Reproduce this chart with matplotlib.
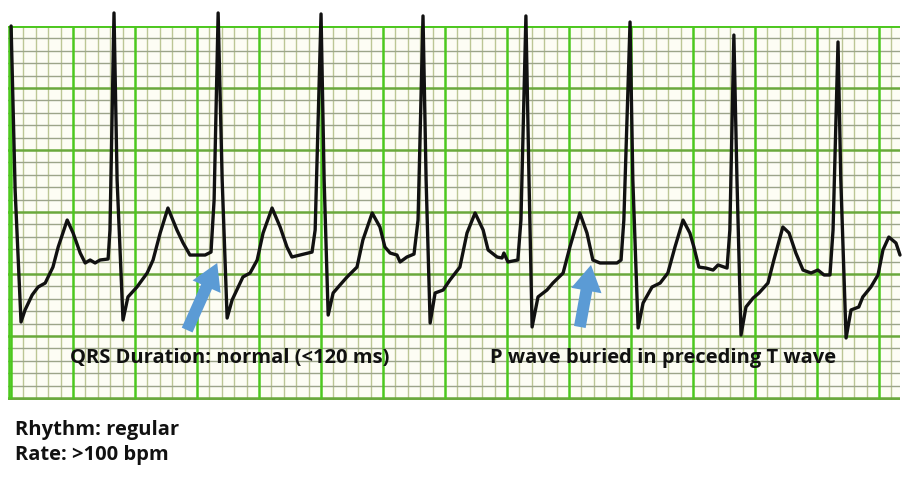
import matplotlib
matplotlib.use("Agg")
import matplotlib.pyplot as plt
import numpy as np

# ECG trace: time (s) and amplitude (mV), read from the strip
time_s = [0.000, 0.013, 0.032, 0.045, 0.068, 0.087, 0.110, 0.135, 0.152, 0.181, 0.200, 0.223, 0.239, 0.255, 0.271, 0.287, 0.313, 0.319, 0.332, 0.342, 0.361,
          0.377, 0.406, 0.439, 0.458, 0.481, 0.506, 0.535, 0.555, 0.577, 0.600, 0.626, 0.645, 0.655, 0.668, 0.681, 0.697,
          0.713, 0.748, 0.771, 0.794, 0.813, 0.842, 0.868, 0.890, 0.906, 0.932, 0.971, 0.981, 1.000, 1.010, 1.023,
          1.039, 1.061, 1.084, 1.116, 1.135, 1.165, 1.190, 1.206, 1.223, 1.245, 1.255, 1.277, 1.300, 1.313, 1.329, 1.339, 1.352,
          1.368, 1.394, 1.416, 1.448, 1.471, 1.497, 1.523, 1.539, 1.568, 1.584, 1.590, 1.603, 1.635, 1.645, 1.661, 1.671, 1.681,
          1.700, 1.729, 1.748, 1.781, 1.803, 1.835, 1.858, 1.877, 1.900, 1.955, 1.968, 1.977, 1.997, 2.006, 2.023,
          2.039, 2.068, 2.094, 2.119, 2.142, 2.168, 2.190, 2.203, 2.219, 2.242, 2.265, 2.281, 2.310, 2.319, 2.332, 2.342, 2.355,
          2.371, 2.394, 2.413, 2.442, 2.461, 2.490, 2.510, 2.532, 2.555, 2.581, 2.603, 2.623, 2.642, 2.652, 2.668, 2.677, 2.694,
          2.710, 2.735, 2.748, 2.774, 2.797, 2.813, 2.832, 2.855, 2.868]
amp_mv = [3.000, 1.677, 0.613, 0.710, 0.831, 0.895, 0.927, 1.056, 1.218, 1.435, 1.331, 1.169, 1.089, 1.113, 1.089, 1.113, 1.121, 1.355, 3.105, 1.758, 0.629,
          0.815, 0.895, 1.008, 1.113, 1.331, 1.532, 1.355, 1.250, 1.153, 1.153, 1.153, 1.177, 1.597, 3.105, 1.758, 0.645,
          0.790, 0.976, 1.008, 1.113, 1.331, 1.532, 1.379, 1.218, 1.137, 1.153, 1.177, 1.355, 3.097, 1.758, 0.669,
          0.847, 0.911, 0.976, 1.056, 1.274, 1.492, 1.379, 1.218, 1.169, 1.153, 1.097, 1.137, 1.161, 1.435, 3.081, 1.758, 0.605,
          0.847, 0.871, 0.952, 1.056, 1.331, 1.492, 1.355, 1.194, 1.137, 1.129, 1.169, 1.097, 1.113, 1.435, 3.081, 1.758, 0.573,
          0.815, 0.871, 0.927, 1.008, 1.218, 1.492, 1.331, 1.113, 1.089, 1.089, 1.113, 1.435, 3.032, 1.758, 0.565,
          0.766, 0.895, 0.927, 1.008, 1.218, 1.435, 1.331, 1.218, 1.056, 1.048, 1.032, 1.073, 1.048, 1.355, 2.927, 1.758, 0.508,
          0.734, 0.806, 0.847, 0.927, 1.113, 1.379, 1.331, 1.169, 1.032, 1.008, 1.032, 0.992, 0.992, 1.355, 2.871, 1.758, 0.484,
          0.710, 0.734, 0.815, 0.895, 0.992, 1.194, 1.298, 1.250, 1.153]

# annotations
arrow_tails = [(0.568, 0.548), (1.835, 0.573)]
arrow_tips = [(0.665, 1.089), (1.871, 1.073)]
labels = ["QRS Duration: normal (<120 ms)", "P wave buried in preceding T wave"]
label_pos = [(0.19, 0.286), (1.545, 0.286)]
footer = ["Rhythm: regular", "Rate: >100 bpm"]

W, H = 921, 486
fig = plt.figure(figsize=(W / 100, H / 100), dpi=100)
fig.patch.set_facecolor("white")
ax = fig.add_axes([8 / W, (H - 400) / H, 892 / W, 374 / H])
t_min, t_max = -0.01, 2.868
v_min, v_max = -0.016, 3.0
ax.set_xlim(t_min, t_max)
ax.set_ylim(v_min, v_max)
ax.set_facecolor("#fdfdf4")
for s in ax.spines.values():
    s.set_visible(False)
ax.set_xticks([])
ax.set_yticks([])

vminor_col = "#bcc694"
hminor_col = "#9ca48a"
vmajor_col = "#4cc81e"
hmajor_col = "#6aa83c"
for k in range(0, 73):
    t = k * 0.04
    if t > t_max:
        break
    if k % 5:
        ax.axvline(t, color=vminor_col, lw=1.0, zorder=1)
for k in range(0, 31):
    v = k * 0.1
    if k % 5:
        ax.axhline(v, color=hminor_col, lw=1.0, zorder=1)
for k in range(0, 7):
    ax.axhline(k * 0.5, color=hmajor_col, lw=1.8, zorder=2)
for k in range(0, 15):
    ax.axvline(k * 0.2, color=vmajor_col, lw=1.8, zorder=2)
ax.axvline(t_min + 0.003, color=vmajor_col, lw=1.8, zorder=2)
ax.axhline(v_max, color=vmajor_col, lw=2.0, zorder=2)
ax.axhline(v_min + 0.004, color=hmajor_col, lw=2.0, zorder=2)

ax.plot(time_s, amp_mv, color="#111111", lw=2.4, solid_joinstyle="round",
        solid_capstyle="round", zorder=5, clip_on=False)

for tail, tip in zip(arrow_tails, arrow_tips):
    ax.annotate("", xy=tip, xytext=tail,
                arrowprops=dict(arrowstyle="simple,head_length=1.1,head_width=1.3,tail_width=0.5",
                                color="#5b9bd5", lw=0, shrinkA=0, shrinkB=0,
                                mutation_scale=17), zorder=6)

fam = ["Open Sans", "DejaVu Sans"]
fs = 14.5
for txt, (x, y) in zip(labels, label_pos):
    ax.text(x, y, txt, fontsize=fs, fontweight="bold", family=fam,
            color="#111111", va="baseline", ha="left", zorder=7)

fig.text(15 / W, 1 - 435 / H, footer[0], fontsize=fs, fontweight="bold",
         family=fam, color="#111111", va="baseline", ha="left")
fig.text(15 / W, 1 - 460 / H, footer[1], fontsize=fs, fontweight="bold",
         family=fam, color="#111111", va="baseline", ha="left")

fig.savefig("out.png", dpi=100, facecolor="white")
